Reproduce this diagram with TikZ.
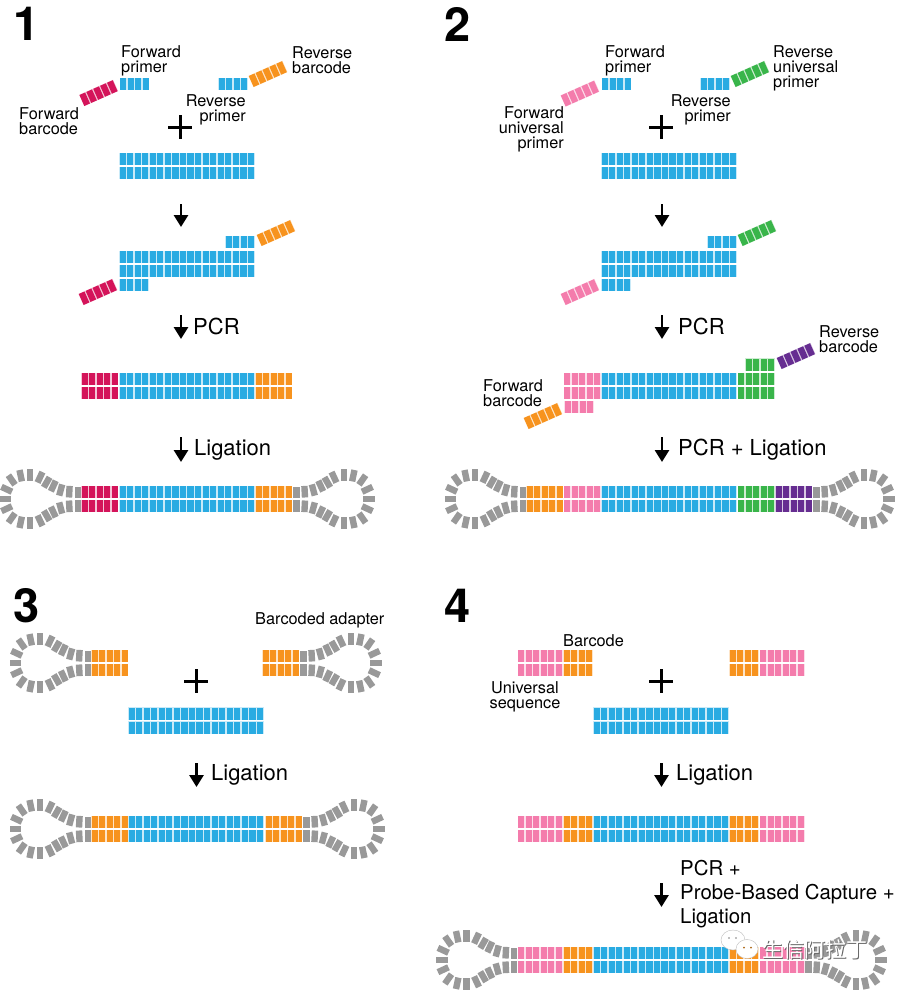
\documentclass[tikz,border=0pt]{standalone}
\usepackage{fontspec}
\setmainfont{TeX Gyre Heros}
\newfontfamily\cjkwm{Noto Sans CJK SC}
\usetikzlibrary{arrows.meta}
\definecolor{cblue}{HTML}{29ABE2}
\definecolor{ccrim}{HTML}{D4145A}
\definecolor{corg}{HTML}{F7931E}
\definecolor{cpink}{HTML}{F47CAC}
\definecolor{cgrn}{HTML}{39B54A}
\definecolor{cpur}{HTML}{662D91}
\definecolor{cgry}{HTML}{999999}
\tikzset{
  lbl/.style={inner sep=0pt,font=\fontsize{16.3}{15}\selectfont},
  lblL/.style={lbl,anchor=west,align=left},
  lblR/.style={lbl,anchor=east,align=right},
  lblC/.style={lbl,anchor=center,align=center},
  big/.style={inner sep=0pt,anchor=west,align=left,font=\fontsize{22}{24}\selectfont},
  bigsmall/.style={inner sep=0pt,anchor=west,align=left,font=\fontsize{20.4}{24}\selectfont},
  num/.style={inner sep=0pt,anchor=center,font=\fontsize{47}{47}\selectfont\bfseries},
  flow/.style={line width=2.8pt,-{Triangle[width=14pt,length=12pt]}},
  plusbar/.style={line width=3pt,black},
}
% single row of n cells: x,y(top),n,colour
\newcommand{\cellrow}[4]{%
  \fill[#4!25] ({#1+0.3},{#2-0.2}) rectangle ({#1+#3*7.55-0.3},{#2+12.2});
  \foreach \ci in {1,...,#3}{%
    \fill[#4] ({#1+(\ci-1)*7.55+0.5},#2) rectangle ++(6.2,12);}}
% double strand: x,y(top of upper row),n,colour
\newcommand{\dbl}[4]{\cellrow{#1}{#2}{#3}{#4}\cellrow{#1}{#2+14}{#3}{#4}}
% tilted strand of 5 cells: centre x, centre y, colour
\newcommand{\tilted}[3]{%
  \begin{scope}[shift={(#1,#2)},rotate=24]
    \cellrow{-18.9}{-6}{5}{#3}
  \end{scope}}
% half loop parts
\newcommand{\halfloop}{%
  \foreach \dx/\dy/\ang in {-3.3/-6.7/0,-11.7/-7.3/-3,-20.3/-9/-15,-27.7/-13/-25,-34.3/-16.7/-30,-41/-21.7/-25,-51/-24/0,-60.3/-23.3/12,-69.3/-19/35,-74.3/-9.7/65}{%
    \fill[cgry,shift={(\dx,\dy)},rotate=\ang] (-3.2,-5.8) rectangle (3.2,5.8);}}
% hairpin: attach x, axis y, +1 for a loop going left / -1 going right
\newcommand{\hairpin}[3]{%
  \begin{scope}[shift={(#1,#2)},xscale=#3]
    \halfloop
    \begin{scope}[yscale=-1]\halfloop\end{scope}
    \fill[cgry] (-81.5,-3.4) rectangle (-69.9,3.4);
  \end{scope}}
\newcommand{\flowdown}[4]{%
  \coordinate (#1s) at (#2,#3);\coordinate (#1e) at (#2,#4);
  \draw[flow] (#1s) -- (#1e);}
\newcommand{\plussign}[3]{%
  \coordinate (#1w) at (#2-12,#3);\coordinate (#1e) at (#2+12,#3);
  \coordinate (#1n) at (#2,#3-12);\coordinate (#1s) at (#2,#3+12);
  \draw[plusbar] (#1w) -- (#1e);\draw[plusbar] (#1n) -- (#1s);}
\begin{document}
\begin{tikzpicture}[x=1pt,y=-1pt]
\useasboundingbox (0,0) rectangle (900,990);
% ---------- Panel 1
\node[num] (n1) at (27,24) {1};
\node[lblL] (t1a) at (121,60.5) {Forward\\primer};
\node[lblL] (t1b) at (292,60.5) {Reverse\\barcode};
\node[lblL] (t1c) at (19,121.5) {Forward\\barcode};
\node[lblR] (t1d) at (246,109.5) {Reverse\\primer};
\cellrow{119.5}{78}{4}{cblue}
\cellrow{218}{78}{4}{cblue}
\tilted{98.7}{93}{ccrim}
\tilted{268}{74}{corg}
\plussign{p1}{180}{127}
\dbl{119}{153}{18}{cblue}
\flowdown{a1}{181}{204}{227}
\cellrow{225}{236}{4}{cblue}
\dbl{119}{251}{18}{cblue}
\cellrow{119}{279}{4}{cblue}
\tilted{276}{233}{corg}
\tilted{98}{292}{ccrim}
\flowdown{a2}{181}{315}{339}
\node[big] (t1e) at (193,326) {PCR};
\dbl{81}{373}{5}{ccrim}
\dbl{119}{373}{18}{cblue}
\dbl{255}{373}{5}{corg}
\flowdown{a3}{181}{437}{462}
\node[big] (t1f) at (194,450) {Ligation};
\dbl{81}{486}{5}{ccrim}
\dbl{119}{486}{18}{cblue}
\dbl{255}{486}{5}{corg}
\hairpin{81}{499}{1}
\hairpin{293}{499}{-1}
% ---------- Panel 2
\node[num] (n2) at (457.5,24) {2};
\node[lblL] (t2a) at (605,60.5) {Forward\\primer};
\node[lblL] (t2b) at (773,68) {Reverse\\universal\\primer};
\node[lblR] (t2c) at (564,129) {Forward\\universal\\primer};
\node[lblR] (t2d) at (731,109.5) {Reverse\\primer};
\cellrow{601.5}{78}{4}{cblue}
\cellrow{700}{78}{4}{cblue}
\tilted{580}{93.5}{cpink}
\tilted{750}{74}{cgrn}
\plussign{p2}{661}{127}
\dbl{601}{153}{18}{cblue}
\flowdown{a4}{662}{204}{227}
\cellrow{707}{236}{4}{cblue}
\dbl{601}{251}{18}{cblue}
\cellrow{601}{279}{4}{cblue}
\tilted{757}{233}{cgrn}
\tilted{580}{292}{cpink}
\flowdown{a5}{662}{315}{339}
\node[big] (t2e) at (678,326) {PCR};
\node[lblL] (t2f) at (819,339.5) {Reverse\\barcode};
\node[lblL] (t2g) at (483,393) {Forward\\barcode};
\cellrow{745}{358.5}{4}{cgrn}
\dbl{563.5}{373}{5}{cpink}
\dbl{601}{373}{18}{cblue}
\dbl{737.5}{373}{5}{cgrn}
\cellrow{564}{401}{4}{cpink}
\tilted{543}{416}{corg}
\tilted{796}{356}{cpur}
\flowdown{a6}{662}{437}{462}
\node[big] (t2h) at (678,450) {PCR + Ligation};
\dbl{526}{486}{5}{corg}
\dbl{563.5}{486}{5}{cpink}
\dbl{601}{486}{18}{cblue}
\dbl{737.5}{486}{5}{cgrn}
\dbl{775}{486}{5}{cpur}
\hairpin{526}{499}{1}
\hairpin{813}{499}{-1}
% ---------- Panel 3
\node[num] (n3) at (26.5,606) {3};
\node[lblL] (t3a) at (255,620.5) {Barcoded adapter};
\dbl{91}{650}{5}{corg}
\hairpin{91}{663}{1}
\dbl{262}{650}{5}{corg}
\hairpin{300}{663}{-1}
\plussign{p3}{196}{681}
\dbl{128}{707.5}{18}{cblue}
\flowdown{a7}{196.5}{763}{787}
\node[big] (t3b) at (211,775) {Ligation};
\dbl{91}{816}{5}{corg}
\dbl{128}{816}{18}{cblue}
\dbl{265}{816}{5}{corg}
\hairpin{91}{829}{1}
\hairpin{303}{829}{-1}
% ---------- Panel 4
\node[num] (n4) at (457.5,606) {4};
\node[lblL] (t4a) at (563,640.5) {Barcode};
\node[lblC] (t4b) at (525,696.5) {Universal\\sequence};
\dbl{517.5}{650}{6}{cpink}
\dbl{563}{650}{4}{corg}
\dbl{729}{650}{4}{corg}
\dbl{759.5}{650}{6}{cpink}
\plussign{p4}{661}{681}
\dbl{593}{707.5}{18}{cblue}
\flowdown{a8}{661.5}{763}{787}
\node[big] (t4c) at (676,775) {Ligation};
\dbl{517.5}{816}{6}{cpink}
\dbl{563}{816}{4}{corg}
\dbl{593}{816}{18}{cblue}
\dbl{729}{816}{4}{corg}
\dbl{759.5}{816}{6}{cpink}
\flowdown{a9}{661.5}{883}{907}
\node[bigsmall] (t4d) at (680,894.5) {PCR +\\Probe-Based Capture +\\Ligation};
\dbl{517.5}{947}{6}{cpink}
\dbl{563}{947}{4}{corg}
\dbl{593}{947}{18}{cblue}
\dbl{729}{947}{4}{corg}
\dbl{759.5}{947}{6}{cpink}
\hairpin{517.5}{960}{1}
\hairpin{805}{960}{-1}
% ---------- Watermark
\fill[white,draw=black!25,line width=0.4pt] (733,940) ellipse (12 and 10);
\fill[white,draw=black!25,line width=0.4pt] (747,949) ellipse (11 and 9.5);
\fill[corg!70!black] (744,947.5) circle (1);
\fill[corg!70!black] (751,947.5) circle (1);
\fill[black!50] (729,938) circle (0.8);
\fill[black!50] (736,938) circle (0.8);
\node[inner sep=0pt,anchor=west,text=black!60,font=\fontsize{21}{24}\cjkwm] (wmS) at (763.6,950.6) {生信阿拉丁};
\node[inner sep=0pt,anchor=west,text=white,font=\fontsize{21}{24}\cjkwm] (wm) at (762.6,949.6) {生信阿拉丁};
\end{tikzpicture}
\end{document}
